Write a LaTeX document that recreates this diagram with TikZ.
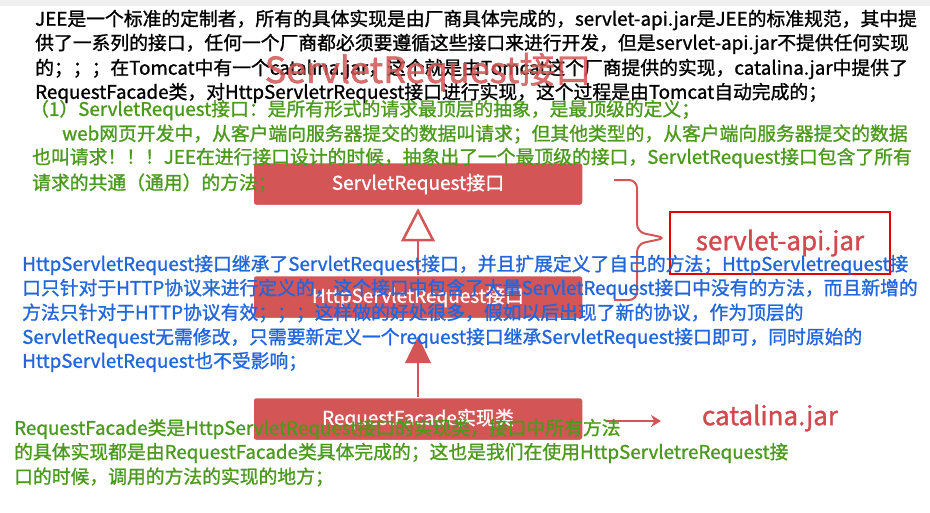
\documentclass[tikz,border=0pt]{standalone}
\usepackage{fontspec}
\setmainfont[FakeBold=1.2]{Noto Sans CJK SC}
\usetikzlibrary{arrows.meta}
\definecolor{boxred}{HTML}{D35556}
\definecolor{jarred}{HTML}{D04A50}
\definecolor{tgreen}{HTML}{4C9A1C}
\definecolor{tblue}{HTML}{2266DD}
\tikzset{
  box/.style={draw=white,line width=1.5pt,fill=boxred,rounded corners=3pt,minimum width=330pt,minimum height=43pt,text=white,font=\fontsize{19}{20}\selectfont},
  ln/.style={anchor=west,inner sep=0pt,font=\fontsize{18.8}{20}\selectfont},
  conn/.style={draw=boxred,line width=2.5pt},
}
\begin{document}
\begin{tikzpicture}[x=1pt,y=-1pt]
\useasboundingbox[fill=white] (0,0) rectangle (930,512);
\fill[gray!12] (0,0) rectangle (930,6);
% boxes
\node[box] (sr) at (418,184) {ServletRequest接口};
\node[box] (hsr) at (418,297) {HttpServletRequest接口};
\node[box] (rf) at (418,419) {RequestFacade实现类};
% arrows
\coordinate (t1) at (418,240);
\draw[conn] (hsr.north) -- (t1);
\draw[draw=boxred,line width=2.5pt,fill=white,line join=miter] (418,211) -- (403,240) -- (433,240) -- cycle;
\coordinate (t2) at (418,362);
\draw[conn] (rf.north) -- (t2);
\fill[boxred] (418,336) -- (405,363) -- (431,363) -- cycle;
% brace
\coordinate (b1) at (614,180);
\coordinate (b2) at (614,300);
\draw[conn,line width=2pt,rounded corners=8pt] (b1) -- (637,180) -- (637,232) -- (666,238) -- (637,244) -- (637,300) -- (b2);
\node[draw=red!90!black,line width=2pt,minimum width=220pt,minimum height=62pt,text=jarred,font=\fontsize{26}{28}\selectfont] (api) at (780,243) {servlet-api.jar};
\node[text=jarred,font=\fontsize{26}{28}\selectfont] (cat) at (770,418) {catalina.jar};
\coordinate (c1) at (606,421);
\draw[conn,-{Stealth[length=10pt,width=12pt]}] (c1) -- (661,421);
% black paragraph
\node[ln] (p1) at (35,20) {JEE是一个标准的定制者，所有的具体实现是由厂商具体完成的，servlet-api.jar是JEE的标准规范，其中提};
\node[ln] (p2) at (35,44) {供了一系列的接口，任何一个厂商都必须要遵循这些接口来进行开发，但是servlet-api.jar不提供任何实现};
\node[ln] (p3) at (35,69) {的；；；在Tomcat中有一个catalina.jar，这个就是由Tomcat这个厂商提供的实现，catalina.jar中提供了};
\node[ln] (p4) at (35,93) {RequestFacade类，对HttpServletrRequest接口进行实现，这个过程是由Tomcat自动完成的；};
% title overlay
\node[text=boxred,opacity=0.85,font=\fontsize{36}{40}\selectfont] (title) at (428,72) {ServletRequest接口};
% green top
\begin{scope}[text=tgreen]
\node[ln] (g1) at (30,110) {（1）ServletRequest接口：是所有形式的请求最顶层的抽象，是最顶级的定义；};
\node[ln] (g2) at (62,134) {web网页开发中，从客户端向服务器提交的数据叫请求；但其他类型的，从客户端向服务器提交的数据};
\node[ln] (g3) at (32,158) {也叫请求！！！JEE在进行接口设计的时候，抽象出了一个最顶级的接口，ServletRequest接口包含了所有};
\node[ln] (g4) at (32,183) {请求的共通（通用）的方法；};
\node[ln] (h1) at (14,429) {RequestFacade类是HttpServletRequest接口的实现类，接口中所有方法};
\node[ln] (h2) at (14,453) {的具体实现都是由RequestFacade类具体完成的；这也是我们在使用HttpServletreRequest接};
\node[ln] (h3) at (14,477) {口的时候，调用的方法的实现的地方；};
\end{scope}
\begin{scope}[text=tblue]
\node[ln] (u1) at (22,265) {HttpServletRequest接口继承了ServletRequest接口，并且扩展定义了自己的方法；HttpServletrequest接};
\node[ln] (u2) at (22,289) {口只针对于HTTP协议来进行定义的，这个接口中包含了大量ServletRequest接口中没有的方法，而且新增的};
\node[ln] (u3) at (22,313) {方法只针对于HTTP协议有效；；；这样做的好处很多，假如以后出现了新的协议，作为顶层的};
\node[ln] (u4) at (22,338) {ServletRequest无需修改，只需要新定义一个request接口继承ServletRequest接口即可，同时原始的};
\node[ln] (u5) at (22,362) {HttpServletRequest也不受影响；};
\end{scope}
\end{tikzpicture}
\end{document}
